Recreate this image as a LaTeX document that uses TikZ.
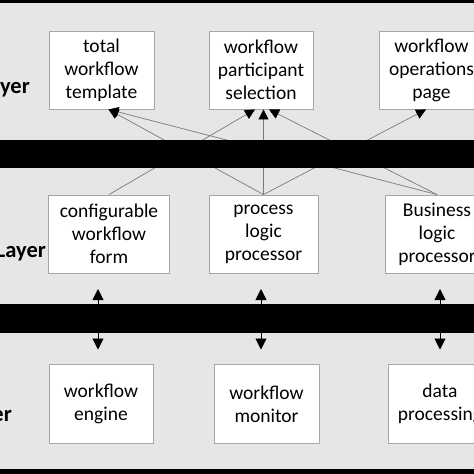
\documentclass[tikz,border=0pt]{standalone}
\usepackage{fontspec}
\setmainfont{Carlito}
\usetikzlibrary{arrows.meta}
\definecolor{bg}{HTML}{E6E6E6}
\definecolor{boxline}{HTML}{A6A6A6}
\definecolor{conn}{HTML}{7A7A7A}
\tikzset{
  box/.style={draw=boxline, line width=0.9pt, fill=white, inner sep=0pt, align=center,
    font=\fontsize{19.5}{23}\selectfont},
  layerlabel/.style={font=\fontsize{22.5}{26}\selectfont\bfseries, inner sep=0pt},
  bar/.style={fill=black, inner sep=0pt, minimum width=474pt},
  conn/.style={draw=conn, line width=0.7pt, -{Triangle[width=10pt,length=10pt,color=black]}},
  vert/.style={draw=black, line width=0.9pt, -{Triangle[width=11pt,length=11pt]}}
}
\begin{document}
\begin{tikzpicture}[x=1pt,y=-1pt]
\useasboundingbox (0,0) rectangle (474,474);
\clip (0,0) rectangle (474,474);
\fill[bg] (0,0) rectangle (474,474);
\fill[black] (0,0) rectangle (474,3);
\fill[black] (0,469) rectangle (474,474);

% top layer
\node[box, minimum width=105pt, minimum height=78pt] (template) at (101.5,70) {total\\workflow\\template};
\node[box, minimum width=104pt, minimum height=78pt] (participant) at (261,70) {workflow\\participant\\selection};
\node[box, minimum width=105pt, minimum height=78pt] (ops) at (431.5,70) {workflow\\operations\\page};

% middle layer
\node[box, minimum width=120.5pt, minimum height=78pt] (form) at (109,234) {configurable\\workflow\\form};
\node[box, minimum width=109pt, minimum height=78pt] (process) at (263.5,234) {process\\logic\\processor};
\node[box, minimum width=104pt, minimum height=78pt] (business) at (437,234) {Business\\logic\\processor};

% bottom layer
\node[box, minimum width=104pt, minimum height=79pt] (engine) at (101,404) {workflow\\engine};
\node[box, minimum width=105pt, minimum height=79pt] (monitor) at (266.5,404) {workflow\\monitor};
\node[box, minimum width=104pt, minimum height=79pt] (data) at (440,404) {data\\processing};

% connectors (drawn before the bar so the bar hides them)
\draw[conn] (form.north) -- ([xshift=-6pt]participant.south);
\draw[conn] (process.north) -- ([xshift=7pt]template.south);
\draw[conn] (process.north) -- ([xshift=2.5pt]participant.south);
\draw[conn] (process.north) -- ([xshift=-5.5pt]ops.south);
\draw[conn] (business.north) -- ([xshift=7pt]template.south);
\draw[conn] (business.north) -- ([xshift=8pt]participant.south);

% bars
\node[bar, minimum height=28pt] (bar1) at (237,154) {};
\node[bar, minimum height=29pt] (bar2) at (237,318.5) {};

% layer labels
\node[layerlabel, anchor=base east] (l1) at (30,93) {yer};
\node[layerlabel, anchor=base east] (l2) at (46,257.5) {Layer};
\node[layerlabel, anchor=base east] (l3) at (12,421.5) {er};

% vertical arrows
\coordinate (u1) at (98,289); \coordinate (u2) at (261,289); \coordinate (u3) at (440,289);
\coordinate (d1) at (98,349.5); \coordinate (d2) at (261,349.5); \coordinate (d3) at (440,349.5);
\draw[vert] (bar2.north -| u1) -- (u1);
\draw[vert] (bar2.north -| u2) -- (u2);
\draw[vert] (bar2.north -| u3) -- (u3);
\draw[vert] (bar2.south -| d1) -- (d1);
\draw[vert] (bar2.south -| d2) -- (d2);
\draw[vert] (bar2.south -| d3) -- (d3);
\end{tikzpicture}
\end{document}
